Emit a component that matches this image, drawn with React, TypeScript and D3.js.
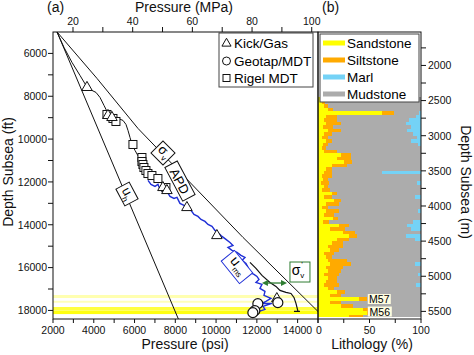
import React from 'react';
import * as d3 from 'd3';

// ---------- DATA ----------
// Lithology log (top of 50 m interval, %)
const lithoTop = [2450,2500,2550,2600,2650,2700,2750,2800,2850,2900,2950,3000,3050,3100,3150,3200,3250,3300,3350,3400,3450,3500,3550,3600,3650,3700,3750,3800,3850,3900,3950,4000,4050,4100,4150,4200,4250,4300,4350,4400,4450,4500,4550,4600,4650,4700,4750,4800,4850,4900,4950,5000,5050,5100,5150,5200,5250,5300,5350,5400,5450,5500,5550];
const sandPct = [3,4,6,10,62,8,6,8,5,10,6,4,8,5,4,6,22,18,25,14,8,6,4,5,3,6,4,14,6,16,8,4,8,6,15,5,20,12,24,30,18,14,10,12,6,8,10,12,8,10,6,10,8,6,10,18,12,40,12,22,44,48,30];
const siltPct = [2,3,4,5,12,10,12,14,10,12,8,6,6,5,4,12,10,14,8,14,6,8,10,5,8,4,8,4,8,6,12,6,12,10,4,6,10,14,12,8,12,10,14,8,10,6,18,20,16,12,14,8,10,14,6,8,10,8,10,12,10,8,14];
const marlPct = [0,0,0,0,2,5,12,15,10,14,8,4,10,3,0,0,0,0,0,0,0,38,0,0,4,0,0,0,6,0,0,0,3,0,0,8,14,10,0,15,6,0,0,0,0,0,0,6,0,0,3,0,0,5,0,0,0,0,0,0,0,0,0];
const lithoBottom = 5575;

// Pressure data (psi vs depth ft)
const kickPsi = [3667,4696,4892,7392,7588,8569,10039,12981];
const kickFt = [7589,8897,8991,12262,12402,13196,14505,17449];
const geotapPsi = [12049,13030,11902,11804];
const geotapFt = [17683,17636,18010,18103];
const rigelPsi = [4647,4941,5088,5922,6363,6363,6412,6461,6559,6657,6853,7147,7539];
const rigelFt = [8851,9037,9178,10252,10860,11047,11187,11327,11467,11608,11701,11841,12262];

const porePsi = [2196,2540,2932,3324,3619,3913,4109,4305,4502,4698,4943,5188,5434,5580,5679,5777,5875,6022,6218,6415,6611,6807,7052];
const poreFt = [5000,5720,6420,7027,7494,7728,7821,8054,8428,8801,8988,9035,9128,9315,9595,9922,10249,10529,10856,11136,11416,11650,11836];

const umsPsi = [6660,6807,7003,7150,7248,7445,7592,7739,7935,8082,8229,8426,8573,8769,8916,9112,9259,9456,9603,9799,9946,10142,10289,10486,10682,10829,10584,10780,11025,11221,11418,11270,11467,11565,11418,11663,11859,12006,12104,11957,12251,12153,12399,12350,12693,12448,12251,12742,12301,12399,12104];
const umsFt = [11930,12116,12210,12116,12350,12490,12443,12677,12770,12723,13004,13097,13237,13330,13517,13610,13751,13844,13984,14077,14264,14404,14544,14684,14824,14964,15058,15198,15291,15431,15525,15665,15805,15992,16132,16225,16318,16412,16552,16692,16785,16972,17112,17299,17439,17579,17673,17673,17813,17953,18046];

const deepPsi = [11663,11957,12251,12644,12938,13134,13429,13674,13821,13919,13968,14017,13821,14115];
const deepFt = [15758,16038,16365,16692,16879,17066,17159,17206,17392,17673,17860,18046,18046,18046];

const svPsi = [2200,4158,6169,11320,15000];
const svFt = [5000,7167,9502,14591,18050];
const uhPsi = [2200,8150];
const uhFt = [5000,18400];

// Sand intervals highlighted in panel (a) (ft)
const bandTopFt = [17280,17550,17840,18000];
const bandBotFt = [17420,17640,17990,18170];

// effective stress arrow (psi, ft)
const arrowPsi = [12251,13478];
const arrowFt = 16720;

// Tick values
const psiTicks = [2000,3000,4000,5000,6000,7000,8000,9000,10000,11000,12000,13000,14000,15000];
const psiLabels = [2000,4000,6000,8000,10000,12000,14000];
const mpaTicks = [20,30,40,50,60,70,80,90,100];
const mpaLabels = [20,40,60,80,100];
const ftTicks = [6000,7000,8000,9000,10000,11000,12000,13000,14000,15000,16000,17000,18000];
const ftLabels = [6000,8000,10000,12000,14000,16000,18000];
const mTicks = [1750,2000,2250,2500,2750,3000,3250,3500,3750,4000,4250,4500,4750,5000,5250,5500];
const mLabels = [2000,2500,3000,3500,4000,4500,5000,5500];
const pctTicks = [0,25,50,75,100];
const pctLabels = [0,50,100];

const legendA = ['Kick/Gas', 'Geotap/MDT', 'Rigel MDT'];
const legendB = ['Sandstone', 'Siltstone', 'Marl', 'Mudstone'];

// ---------- STYLE ----------
const FONT = "'Liberation Sans', Arial, Helvetica, sans-serif";
const C_SAND = '#ffff00';
const C_SILT = '#ffaa00';
const C_MARL = '#74d2f6';
const C_MUD = '#acacac';
const C_BLUE = '#1f2fd6';
const C_GREEN = '#2f7d32';

export default function App() {
  const L = 53, R = 318, T = 32, B = 319, R2 = 421;
  const x = d3.scaleLinear().domain([2000, 15000]).range([L, R]);
  const y = d3.scaleLinear().domain([5000, 18400]).range([T, B]);
  const xMPa = d3.scaleLinear().domain([13.3, 102.1]).range([L, R]);
  const yM = d3.scaleLinear().domain([5000 * 0.3048, 18400 * 0.3048]).range([T, B]);
  const xL = d3.scaleLinear().domain([0, 100]).range([R, R2]);

  const line = d3.line<[number, number]>().x(d => x(d[0])).y(d => y(d[1]));
  const zip = (a: number[], b: number[]) => a.map((v, i) => [v, b[i]] as [number, number]);

  const tri = d3.symbol().type(d3.symbolTriangle).size(48)() as string;
  const triSmall = d3.symbol().type(d3.symbolTriangle).size(36)() as string;

  const tickLab = { fontFamily: FONT, fontSize: 10.5, fill: '#111' } as any;

  const boxLabel = (cx: number, cy: number, w: number, h: number, rot: number, stroke: string, content: React.ReactNode, key: string) => (
    <g key={key} transform={`translate(${cx},${cy}) rotate(${rot})`}>
      <rect x={-w / 2} y={-h / 2} width={w} height={h} fill="white" stroke={stroke} strokeWidth={1} />
      {content}
    </g>
  );

  const a0x = x(arrowPsi[0]), a1x = x(arrowPsi[1]), ay = y(arrowFt);

  return (
    <svg width={474} height={355} style={{ position: 'absolute', left: 0, top: 0, background: 'white' }}
      xmlns="http://www.w3.org/2000/svg">
      <defs>
        <clipPath id="clipA"><rect x={L} y={T} width={R - L} height={B - T} /></clipPath>
        <clipPath id="clipB"><rect x={R} y={T} width={R2 - R} height={B - T} /></clipPath>
      </defs>

      {/* ---- Panel (b): lithology ---- */}
      <g clipPath="url(#clipB)" shapeRendering="crispEdges">
        {lithoTop.map((d, i) => {
          const y0 = yM(d), y1 = yM(Math.min(d + 50, lithoBottom));
          const h = y1 - y0 + 0.4;
          const s = sandPct[i], t = siltPct[i], m = marlPct[i];
          return (
            <g key={'l' + i}>
              <rect x={xL(0)} y={y0} width={xL(100) - xL(0)} height={h} fill={C_MUD} />
              <rect x={xL(0)} y={y0} width={xL(s) - xL(0)} height={h} fill={C_SAND} />
              <rect x={xL(s)} y={y0} width={xL(s + t) - xL(s)} height={h} fill={C_SILT} />
              {m > 0 && <rect x={xL(100 - m)} y={y0} width={xL(100) - xL(100 - m)} height={h} fill={C_MARL} />}
            </g>
          );
        })}
      </g>
      {/* M57 / M56 labels */}
      <g fontFamily={FONT} fontSize={10.5}>
        <rect x={xL(59.5) - 11.5} y={yM(5324) - 5} width={23} height={10} fill="#fffde0" />
        <text x={xL(59.5)} y={yM(5324) + 4} textAnchor="middle">M57</text>
        <rect x={xL(60) - 12} y={yM(5502) - 5} width={24} height={10} fill="#fffde0" />
        <text x={xL(60)} y={yM(5502) + 4} textAnchor="middle">M56</text>
      </g>
      {/* legend b */}
      <rect x={320} y={34} width={99} height={68} fill="white" stroke="#444" strokeWidth={1} />
      {legendB.map((name, i) => {
        const cy = 43 + i * 17;
        const col = [C_SAND, C_SILT, C_MARL, C_MUD][i];
        return (
          <g key={name}>
            <rect x={323} y={cy - 2.5} width={22} height={5} fill={col} />
            <text x={347} y={cy + 5} fontFamily={FONT} fontSize={13.5}>{name}</text>
          </g>
        );
      })}

      {/* ---- Panel (a) ---- */}
      <g clipPath="url(#clipA)">
        {bandTopFt.map((t, i) => (
          <rect key={'b' + i} x={L} y={y(t)} width={R - L} height={y(bandBotFt[i]) - y(t)}
            fill={['#ffffb0', '#ffffb8', '#ffff40', '#ffff10'][i]} />
        ))}
        <path d={line(zip(uhPsi, uhFt)) as string} fill="none" stroke="#111" strokeWidth={1} />
        <path d={line(zip(svPsi, svFt)) as string} fill="none" stroke="#111" strokeWidth={1} />
        <path d={line(zip(porePsi, poreFt)) as string} fill="none" stroke="#111" strokeWidth={1} />
        <path d={line(zip(deepPsi, deepFt)) as string} fill="none" stroke="#111" strokeWidth={1.2} />
        <path d={line(zip(umsPsi, umsFt)) as string} fill="none" stroke={C_BLUE} strokeWidth={1.4} />
        {/* effective stress arrow */}
        <line x1={a0x + 4} x2={a1x - 4} y1={ay} y2={ay} stroke={C_GREEN} strokeWidth={1.3} />
        <path d={`M${a0x},${ay} l6,-3 l0,6 z`} fill={C_GREEN} />
        <path d={`M${a1x},${ay} l-6,-3 l0,6 z`} fill={C_GREEN} />
        {/* markers */}
        {rigelPsi.map((p, i) => (
          <rect key={'r' + i} x={x(p) - 4} y={y(rigelFt[i]) - 4} width={8} height={8} fill="white" stroke="#111" strokeWidth={1} />
        ))}
        {kickPsi.map((p, i) => (
          <path key={'k' + i} d={tri} transform={`translate(${x(p)},${y(kickFt[i])})`} fill="white" stroke="#111" strokeWidth={1} />
        ))}
        {geotapPsi.map((p, i) => (
          <circle key={'g' + i} cx={x(p)} cy={y(geotapFt[i])} r={5} fill="white" stroke="#111" strokeWidth={1.2} />
        ))}
      </g>

      {/* annotations */}
      {boxLabel(x(7396), y(10650), 17, 17, 45, '#111',
        <text textAnchor="middle" y={2} fontFamily={FONT} fontSize={13}>σ<tspan dy={4} fontSize={8}>v</tspan></text>, 'sv')}
      {boxLabel(x(8229), y(11958), 38, 14, 62, '#111',
        <text textAnchor="middle" y={5} fontFamily={FONT} fontSize={13}>APD</text>, 'apd')}
      {boxLabel(x(5630), y(12565), 19, 15, 62, '#111',
        <text textAnchor="middle" y={3} fontFamily={FONT} fontSize={13}>u<tspan dy={4} fontSize={8}>h</tspan></text>, 'uh')}
      {boxLabel(x(11025), y(15973), 29, 17, 51, C_BLUE,
        <text textAnchor="middle" y={2} fontFamily={FONT} fontSize={14}>u<tspan dy={4} fontSize={8}>ms</tspan></text>, 'ums')}
      <g>
        <rect x={x(14115) - 10} y={y(16206) - 10} width={20} height={20} fill="white" stroke={C_GREEN} strokeWidth={1} />
        <text x={x(14115) - 2} y={y(16206) + 3} textAnchor="middle" fontFamily={FONT} fontSize={14}>σ
          <tspan dy={3} fontSize={8}>v</tspan>
          <tspan dx={-3} dy={-11} fontSize={8}>'</tspan>
        </text>
      </g>

      {/* legend a */}
      <rect x={219} y={33} width={94} height={54} fill="white" stroke="#444" strokeWidth={1} />
      <path d={triSmall} transform="translate(226.5,43.5)" fill="white" stroke="#111" />
      <circle cx={226.5} cy={61} r={4} fill="white" stroke="#111" />
      <rect x={223} y={74.5} width={7} height={7} fill="white" stroke="#111" />
      {legendA.map((name, i) => (
        <text key={name} x={234} y={[48, 66, 83][i]} fontFamily={FONT} fontSize={13.5}>{name}</text>
      ))}

      {/* frames */}
      <rect x={L} y={T} width={R - L} height={B - T} fill="none" stroke="#111" strokeWidth={1} />
      <rect x={R} y={T} width={R2 - R} height={B - T} fill="none" stroke="#111" strokeWidth={1} />

      {/* bottom psi axis */}
      {psiTicks.map(v => (
        <line key={'pt' + v} x1={x(v)} x2={x(v)} y1={B} y2={B + 4} stroke="#111" />
      ))}
      {psiLabels.map(v => (
        <text key={'pl' + v} x={x(v)} y={334} textAnchor="middle" {...tickLab}>{v}</text>
      ))}
      {/* top MPa axis */}
      {mpaTicks.map(v => (
        <line key={'mt' + v} x1={xMPa(v)} x2={xMPa(v)} y1={T} y2={T - 5} stroke="#111" />
      ))}
      {mpaLabels.map(v => (
        <text key={'ml' + v} x={xMPa(v)} y={25} textAnchor="middle" {...tickLab}>{v}</text>
      ))}
      {/* left ft axis */}
      {ftTicks.map(v => (
        <line key={'ft' + v} x1={L - 5} x2={L} y1={y(v)} y2={y(v)} stroke="#111" />
      ))}
      {ftLabels.map(v => (
        <text key={'fl' + v} x={L - 6} y={y(v) + 3.8} textAnchor="end" {...tickLab}>{v}</text>
      ))}
      {/* right m axis */}
      {mTicks.map(v => (
        <line key={'mm' + v} x1={R2} x2={R2 + 5} y1={yM(v)} y2={yM(v)} stroke="#111" />
      ))}
      {mLabels.map(v => (
        <text key={'mml' + v} x={R2 + 7} y={yM(v) + 3.8} textAnchor="start" {...tickLab}>{v}</text>
      ))}
      {/* lithology % axis */}
      {pctTicks.map(v => (
        <line key={'ct' + v} x1={xL(v)} x2={xL(v)} y1={B} y2={B + 4} stroke="#111" />
      ))}
      {pctLabels.map(v => (
        <text key={'cl' + v} x={xL(v) + (v === 0 ? 1 : 0)} y={334} textAnchor="middle" {...tickLab}>{v}</text>
      ))}

      {/* titles */}
      <g fontFamily={FONT} fontSize={14} fill="#111">
        <text x={47} y={12}>(a)</text>
        <text x={322} y={12}>(b)</text>
        <text x={184} y={12} textAnchor="middle">Pressure (MPa)</text>
        <text x={185} y={349} textAnchor="middle">Pressure (psi)</text>
        <text x={372} y={349} textAnchor="middle">Lithology (%)</text>
        <text transform="translate(13,172) rotate(-90)" textAnchor="middle">Depth Subsea (ft)</text>
        <text transform="translate(461,182) rotate(90)" textAnchor="middle">Depth Subsea (m)</text>
      </g>
    </svg>
  );
}
